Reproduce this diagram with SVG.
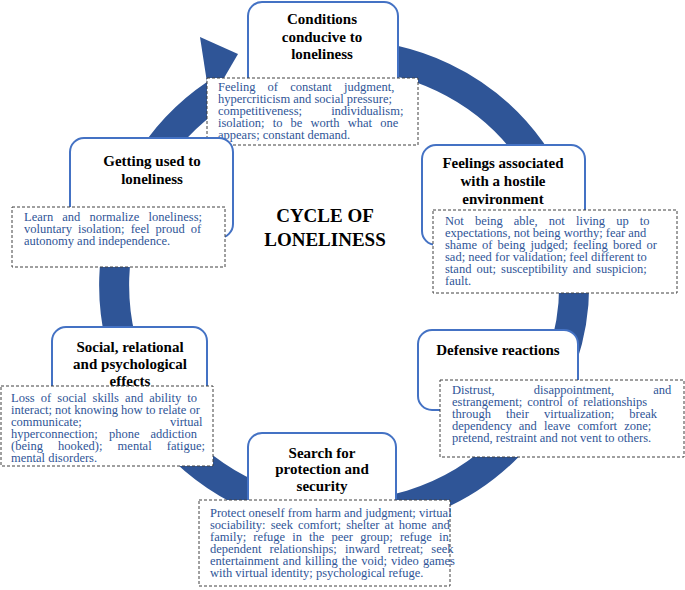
<svg xmlns="http://www.w3.org/2000/svg" width="685" height="590" viewBox="0 0 685 590">
<style>
.box{fill:#fff;stroke:#4472C4;stroke-width:2}
.det{fill:#fff;stroke:#404040;stroke-width:1;stroke-dasharray:3 2}
.t{font-family:"Liberation Serif","Times New Roman",serif;font-weight:bold;font-size:15px;fill:#000;text-anchor:middle}
.d{font-family:"Liberation Serif","Times New Roman",serif;font-size:12.5px;fill:#2F5597}
.c{font-family:"Liberation Serif","Times New Roman",serif;font-weight:bold;font-size:19px;fill:#000;text-anchor:middle}
</style>
<rect width="685" height="590" fill="#fff"/>
<g id="connectors">
<path d="M 344 55 A 230 230 0 1 1 216 94" fill="none" stroke="#2F5597" stroke-width="30"/>
<polygon points="200,37 238,54 210,102" fill="#2F5597"/>
</g>
<g id="center"><text class="c" x="325" y="222">CYCLE OF</text><text class="c" x="325" y="246">LONELINESS</text></g>
<g id="n1">
<rect class="box" x="248" y="2" width="150" height="110" rx="14"/>
<text class="t" x="322" y="24">Conditions</text><text class="t" x="322" y="42">conducive to</text><text class="t" x="322" y="59">loneliness</text>
<rect class="det" x="207" y="78" width="211" height="67"/>
<text class="d" x="218" y="91" word-spacing="9">Feeling of constant judgment,</text>
<text class="d" x="218" y="103">hypercriticism and social pressure;</text>
<text class="d" x="218" y="115" word-spacing="26">competitiveness; individualism;</text>
<text class="d" x="218" y="127" word-spacing="5">isolation; to be worth what one</text>
<text class="d" x="218" y="139">appears; constant demand.</text>
</g>
<g id="n2">
<rect class="box" x="70" y="138" width="163" height="100" rx="14"/>
<text class="t" x="152" y="166">Getting used to</text><text class="t" x="152" y="184">loneliness</text>
<rect class="det" x="12" y="207" width="213" height="60"/>
<text class="d" x="24" y="221" word-spacing="6">Learn and normalize loneliness;</text>
<text class="d" x="24" y="233" word-spacing="3">voluntary isolation; feel proud of</text>
<text class="d" x="24" y="245">autonomy and independence.</text>
</g>
<g id="n3">
<rect class="box" x="422" y="145" width="163" height="100" rx="14"/>
<text class="t" x="503" y="168">Feelings associated</text><text class="t" x="503" y="186">with a hostile</text><text class="t" x="503" y="204">environment</text>
<rect class="det" x="433" y="210" width="244" height="83"/>
<text class="d" x="445" y="225" word-spacing="8">Not being able, not living up to</text>
<text class="d" x="445" y="237">expectations, not being worthy; fear and</text>
<text class="d" x="445" y="249" word-spacing="2">shame of being judged; feeling bored or</text>
<text class="d" x="445" y="261">sad; need for validation; feel different to</text>
<text class="d" x="445" y="273" word-spacing="2">stand out; susceptibility and suspicion;</text>
<text class="d" x="445" y="285">fault.</text>
</g>
<g id="n4">
<rect class="box" x="418" y="330" width="160" height="80" rx="14"/>
<text class="t" x="498" y="355">Defensive reactions</text>
<rect class="det" x="440" y="380" width="244" height="77"/>
<text class="d" x="452" y="394" word-spacing="36">Distrust, disappointment, and</text>
<text class="d" x="452" y="406" word-spacing="2">estrangement; control of relationships</text>
<text class="d" x="452" y="418" word-spacing="12">through their virtualization; break</text>
<text class="d" x="452" y="430" word-spacing="4">dependency and leave comfort zone;</text>
<text class="d" x="452" y="442">pretend, restraint and not vent to others.</text>
</g>
<g id="n5">
<rect class="box" x="52" y="327" width="155" height="80" rx="14"/>
<text class="t" x="130" y="352">Social, relational</text><text class="t" x="130" y="369">and psychological</text><text class="t" x="130" y="386">effects</text>
<rect class="det" x="1" y="386" width="212" height="80"/>
<text class="d" x="11" y="402" word-spacing="3">Loss of social skills and ability to</text>
<text class="d" x="11" y="414">interact; not knowing how to relate or</text>
<text class="d" x="11" y="426" word-spacing="85">communicate; virtual</text>
<text class="d" x="11" y="438" word-spacing="8">hyperconnection; phone addiction</text>
<text class="d" x="11" y="450" word-spacing="12">(being hooked); mental fatigue;</text>
<text class="d" x="11" y="462">mental disorders.</text>
</g>
<g id="n6">
<rect class="box" x="248" y="433" width="148" height="80" rx="14"/>
<text class="t" x="322" y="458">Search for</text><text class="t" x="322" y="474">protection and</text><text class="t" x="322" y="491">security</text>
<rect class="det" x="199" y="500" width="251" height="86"/>
<text class="d" x="210" y="517">Protect oneself from harm and judgment; virtual</text>
<text class="d" x="210" y="529" word-spacing="2">sociability: seek comfort; shelter at home and</text>
<text class="d" x="210" y="541" word-spacing="4">family; refuge in the peer group; refuge in</text>
<text class="d" x="210" y="553" word-spacing="5">dependent relationships; inward retreat; seek</text>
<text class="d" x="210" y="565" word-spacing="1">entertainment and killing the void; video games</text>
<text class="d" x="210" y="577">with virtual identity; psychological refuge.</text>
</g>
</svg>
